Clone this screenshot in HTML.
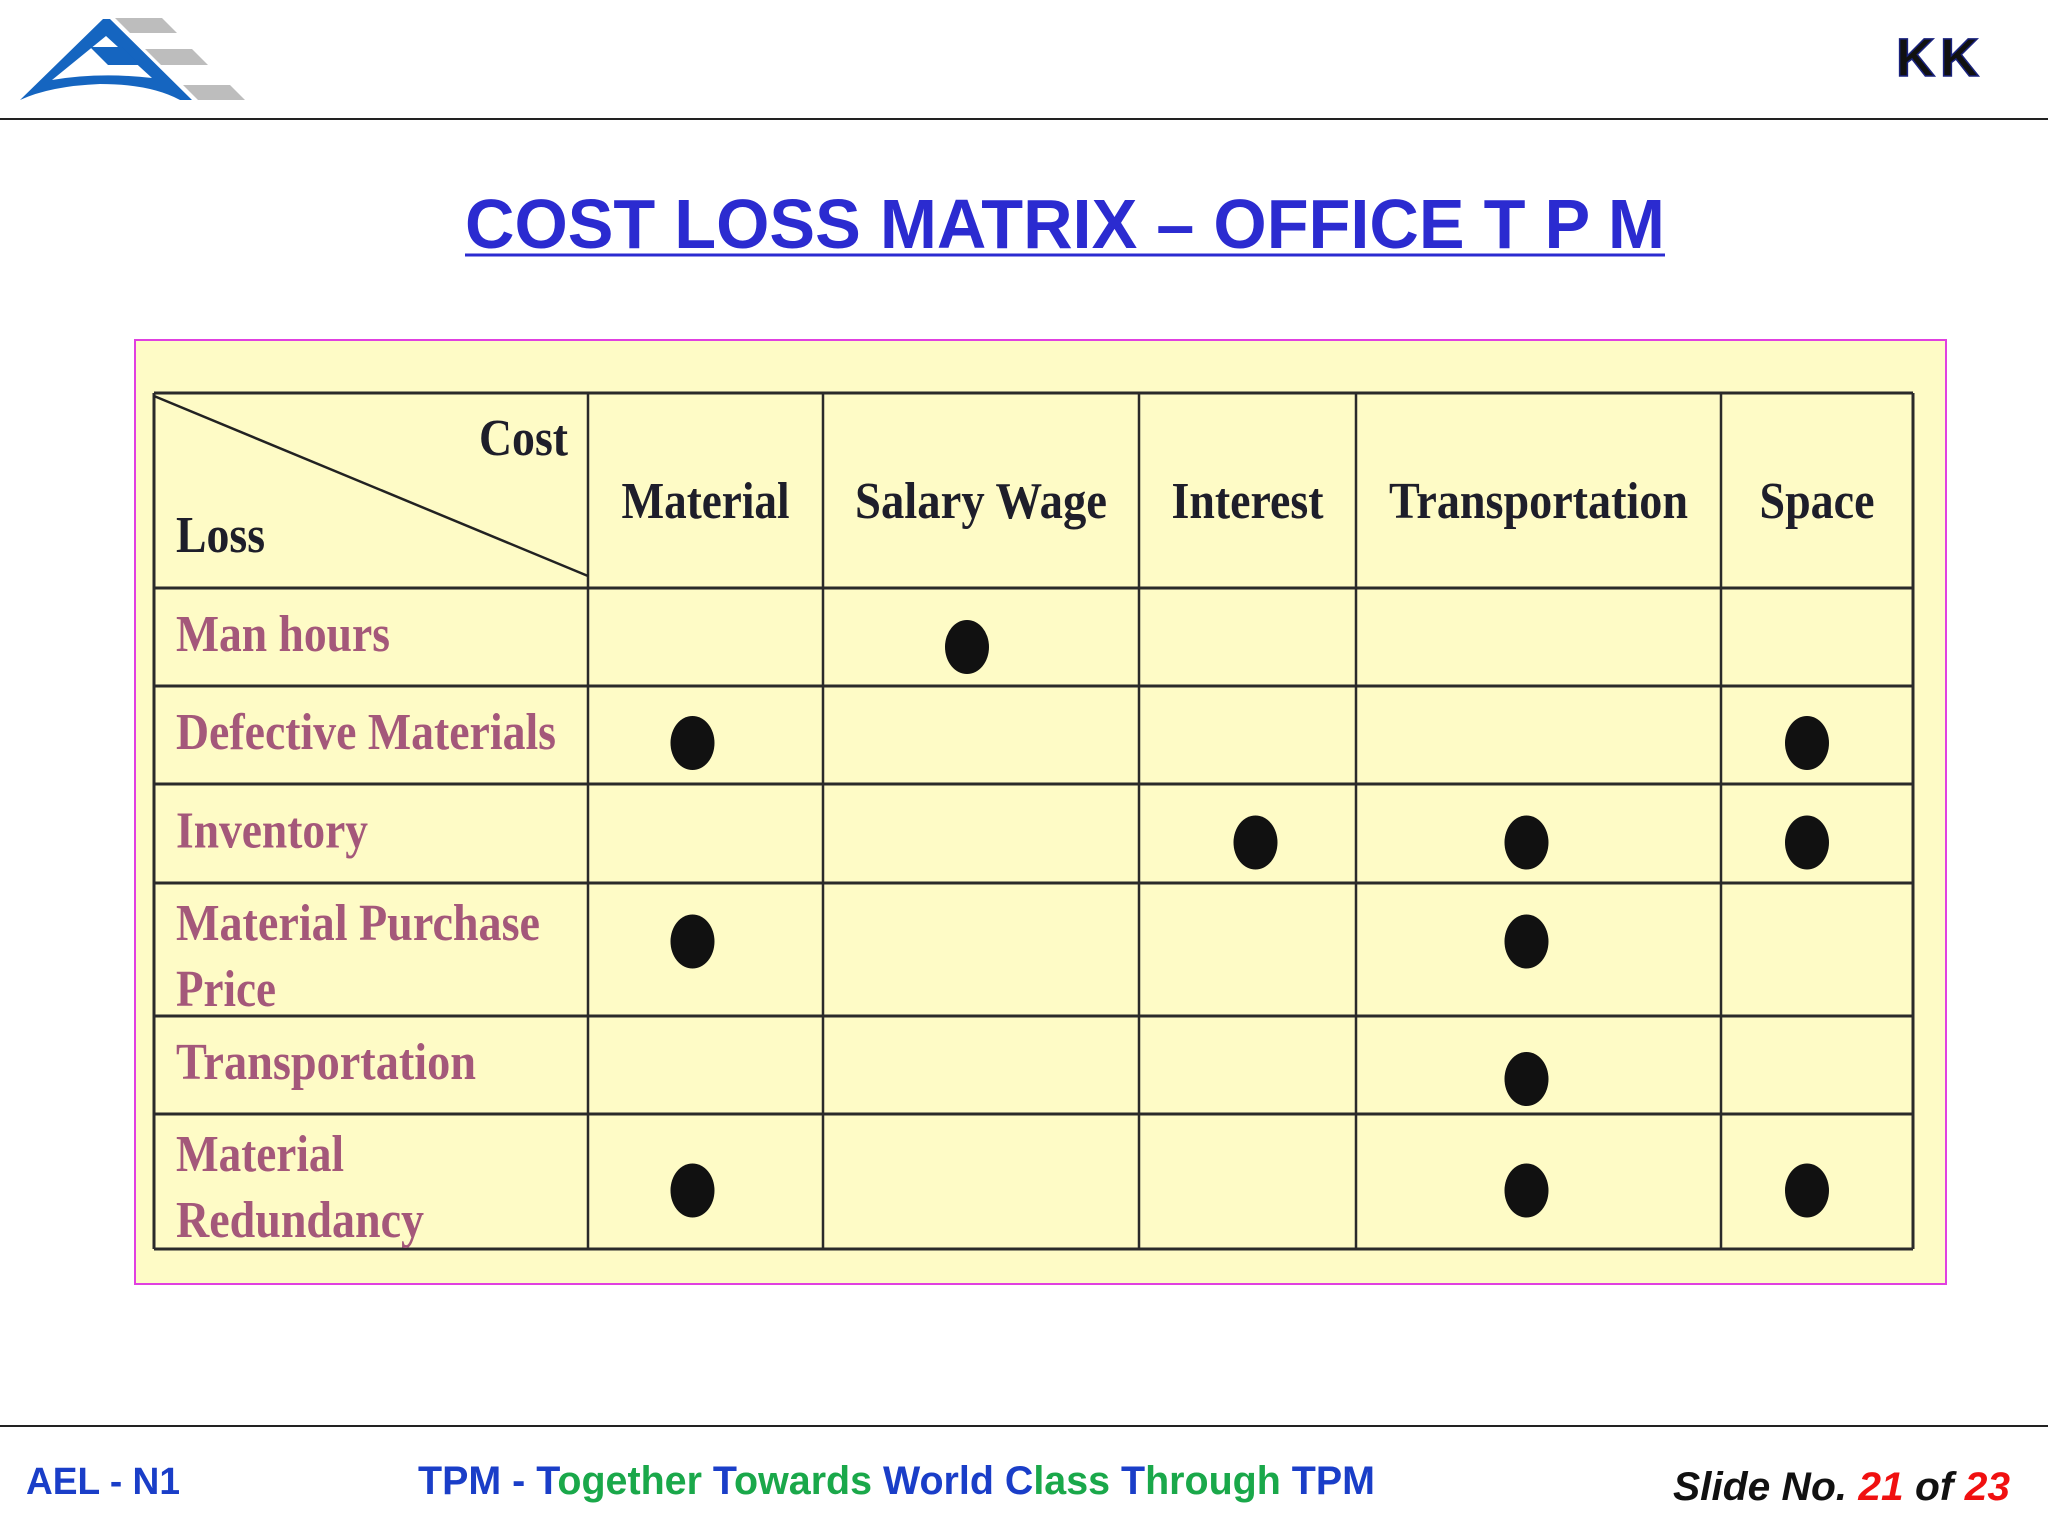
<!DOCTYPE html>
<html><head><meta charset="utf-8">
<style>
html,body{margin:0;padding:0;background:#fff;}
svg{display:block;}
</style></head>
<body>
<svg id="chart" width="2048" height="1536" viewBox="0 0 2048 1536" xmlns="http://www.w3.org/2000/svg">
  <rect width="2048" height="1536" fill="#fff"/>
  <!-- logo -->
  <g>
    <polygon points="115,18 162,18 177,33 130,33" fill="#bdbdbd"/>
    <polygon points="145,49 192,49 208,65 161,65" fill="#bdbdbd"/>
    <polygon points="183,85 230,85 245,100 198,100" fill="#bdbdbd"/>
    <path d="M20,100 L103,19 L110,19 L192,100 L180,100 Q150,84 100,84 Q50,86 20,100 Z M52,80 Q100,72 152,78 L106,36 Z" fill="#1565c0" fill-rule="evenodd"/>
    <polygon points="90,47 122,47 140,65 108,65" fill="#1565c0"/>
  </g>
  <text x="1896" y="76" font-family="Liberation Sans, sans-serif" font-weight="bold" font-size="54" fill="#111" stroke="#1a237e" stroke-width="1.5" textLength="83">KK</text>
  <line x1="0" y1="119" x2="2048" y2="119" stroke="#222" stroke-width="2"/>
  <text x="465" y="248" font-family="Liberation Sans, sans-serif" font-weight="bold" font-size="70" fill="#2b2bd0" textLength="1200" lengthAdjust="spacingAndGlyphs">COST LOSS MATRIX – OFFICE T P M</text>
  <line x1="465" y1="255" x2="1665" y2="255" stroke="#2b2bd0" stroke-width="3"/>
  <!-- matrix panel -->
  <rect x="135" y="340" width="1811" height="944" fill="#fefbc6" stroke="#e040e0" stroke-width="2"/>
  <g id="table"></g>
  <line x1="0" y1="1426" x2="2048" y2="1426" stroke="#222" stroke-width="2"/>
  <text x="26" y="1494" font-family="Liberation Sans, sans-serif" font-weight="bold" font-size="38" fill="#1a3ec8" textLength="154" lengthAdjust="spacingAndGlyphs">AEL - N1</text>
  <text x="418" y="1494" font-family="Liberation Sans, sans-serif" font-weight="bold" font-size="40" textLength="957" lengthAdjust="spacingAndGlyphs"><tspan fill="#1a3ec8">TPM - T</tspan><tspan fill="#1aa84a">ogether </tspan><tspan fill="#1a3ec8">T</tspan><tspan fill="#1aa84a">owards </tspan><tspan fill="#1a3ec8">World C</tspan><tspan fill="#1aa84a">lass </tspan><tspan fill="#1a3ec8">T</tspan><tspan fill="#1aa84a">hrough </tspan><tspan fill="#1a3ec8">TPM</tspan></text>
  <text x="1673" y="1500" font-family="Liberation Sans, sans-serif" font-weight="bold" font-style="italic" font-size="40" textLength="337" lengthAdjust="spacingAndGlyphs"><tspan fill="#111">Slide No. </tspan><tspan fill="#f01010">21</tspan><tspan fill="#111"> of  </tspan><tspan fill="#f01010">23</tspan></text>
</svg>
<script>
const costCategories = ["Material","Salary Wage","Interest","Transportation","Space"];
const lossCategories = [["Man hours"],["Defective Materials"],["Inventory"],["Material Purchase","Price"],["Transportation"],["Material","Redundancy"]];
// marks: [lossIndex, costIndex]
const marks = [[0,1],[1,0],[1,4],[2,2],[2,3],[2,4],[3,0],[3,3],[4,3],[5,0],[5,3],[5,4]];

const NS="http://www.w3.org/2000/svg";
const g=document.getElementById('table');
const colX=[154,588,823,1139,1356,1721,1913];
const rowY=[393,588,686,784,883,1016,1114,1249];
const colOff=[-13,-14,8,-12,-10];
const rowOff=[10,8,9,-8,14,9];
const headerW=[168,252,152,299,115];
const labelW={"Man hours":214,"Defective Materials":380,"Inventory":192,"Material Purchase":364,"Price":100,"Transportation":300,"Material":168,"Redundancy":248};
function mk(tag,attrs){const e=document.createElementNS(NS,tag);for(const k in attrs)e.setAttribute(k,attrs[k]);g.appendChild(e);return e;}
function xCenter(c){return (colX[c+1]+colX[c+2])/2;}
function yCenter(r){return (rowY[r+1]+rowY[r+2])/2;}
for(let i=0;i<colX.length;i++){
  const l=mk('line',{x1:colX[i],y1:rowY[0],x2:colX[i],y2:rowY[rowY.length-1],stroke:'#2a2a2a','stroke-width':i==0||i==colX.length-1?3:2.5});
  
  
}
for(let i=0;i<rowY.length;i++){
  const l=mk('line',{x1:colX[0],y1:rowY[i],x2:colX[colX.length-1],y2:rowY[i],stroke:'#2a2a2a','stroke-width':3});
  
  
}
const d=mk('line',{x1:154,y1:396,x2:588,y2:576,stroke:'#222','stroke-width':2.5});


const font='"Liberation Serif", serif';
const ct=mk('text',{x:479,y:455,'font-family':font,'font-weight':'bold','font-size':52,fill:'#1e1e2a',textLength:89,lengthAdjust:'spacingAndGlyphs'});
ct.textContent='Cost';


const lt=mk('text',{x:176,y:552,'font-family':font,'font-weight':'bold','font-size':52,fill:'#1e1e2a',textLength:89,lengthAdjust:'spacingAndGlyphs'});
lt.textContent='Loss';


costCategories.forEach((c,i)=>{
  const t=mk('text',{x:xCenter(i),y:518,'text-anchor':'middle','font-family':font,'font-weight':'bold','font-size':52,fill:'#1e1e2a',textLength:headerW[i],lengthAdjust:'spacingAndGlyphs'});
  t.textContent=c;
  
  
});
lossCategories.forEach((lines,r)=>{
  const top=rowY[r+1];
  lines.forEach((s,j)=>{
    const y=lines.length==1? top+(rowY[r+2]-top)/2+14 : top+57+j*66;
    const t=mk('text',{x:176,y:y,'font-family':font,'font-weight':'bold','font-size':52,fill:'#a4587a',textLength:labelW[s]||200,lengthAdjust:'spacingAndGlyphs'});
    t.textContent=s;
    
    
  });
});
marks.forEach(([r,c])=>{
  const e=mk('ellipse',{cx:xCenter(c)+colOff[c],cy:yCenter(r)+rowOff[r],rx:22,ry:27,fill:'#111'});
  
  
});
</script>
</body></html>
